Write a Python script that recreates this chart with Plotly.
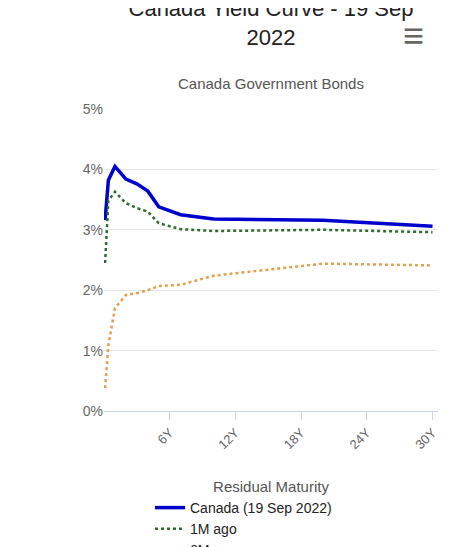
import plotly.graph_objs as go

maturity = [0.1, 0.4, 1, 2, 3, 4, 5, 7, 10, 20, 30]
canada = [3.16, 3.82, 4.05, 3.84, 3.76, 3.64, 3.38, 3.25, 3.18, 3.16, 3.06]
one_m_ago = [2.45, 3.48, 3.63, 3.44, 3.36, 3.30, 3.11, 3.01, 2.98, 3.00, 2.96]
six_m_ago = [0.38, 1.09, 1.70, 1.92, 1.95, 2.00, 2.07, 2.09, 2.24, 2.44, 2.41]
tick_years = [6, 12, 18, 24, 30]
tick_text = ["6Y", "12Y", "18Y", "24Y", "30Y"]

fig = go.Figure()
fig.add_trace(go.Scatter(x=maturity, y=canada, mode="lines", name="Canada (19 Sep 2022)",
                         line=dict(color="#0000cc", width=3.5)))
fig.add_trace(go.Scatter(x=maturity, y=one_m_ago, mode="lines", name="1M ago",
                         line=dict(color="#2e6b2e", width=2.5, dash="dot")))
fig.add_trace(go.Scatter(x=maturity, y=six_m_ago, mode="lines", name="6M ago",
                         line=dict(color="#e0a050", width=2.5, dash="dot")))

W, H, L, R, T, B = 474, 547, 96, 44, 101, 144
ph = H - T - B
pw = W - L - R

fig.update_layout(
    width=W, height=H,
    paper_bgcolor="white", plot_bgcolor="white",
    font=dict(family="Liberation Sans", color="#333"),
    margin=dict(l=L, r=R, t=T, b=B, autoexpand=False),
    title=dict(text="Canada Yield Curve - 19 Sep<br>2022", x=0.5, xref="paper",
               y=1 - 8 / H, yref="container", yanchor="top",
               font=dict(size=22, color="#222")),
    annotations=[
        dict(text="Canada Government Bonds", x=0.5, y=1 + (T - 76) / ph, xref="paper", yref="paper",
             showarrow=False, font=dict(size=15, color="#555"), yanchor="middle"),
        dict(text="<b>≡</b>", x=(418 - L) / pw, y=1 + (T - 27) / ph, xref="paper", yref="paper",
             showarrow=False, font=dict(size=36, color="#666"), yanchor="middle"),
    ],
    xaxis=dict(range=[0, 30.5], tickvals=tick_years, ticktext=tick_text, tickangle=-45,
               showgrid=False, showline=True, linecolor="#ccd6eb", ticks="outside",
               tickcolor="#ccd6eb", ticklen=8, tickfont=dict(size=13, color="#666"),
               automargin=False,
               title=dict(text="Residual Maturity", standoff=30, font=dict(size=15, color="#555"))),
    yaxis=dict(range=[0, 5], dtick=1, ticksuffix="%", gridcolor="#e6e6e6", automargin=False,
               zeroline=False, tickfont=dict(size=14, color="#666")),
    legend=dict(x=(142 - L) / pw, y=-(484 - (T + ph)) / ph, xanchor="left", yanchor="top",
                orientation="v", font=dict(size=14, color="#222"), tracegroupgap=0),
)

fig.write_html("out.html")
